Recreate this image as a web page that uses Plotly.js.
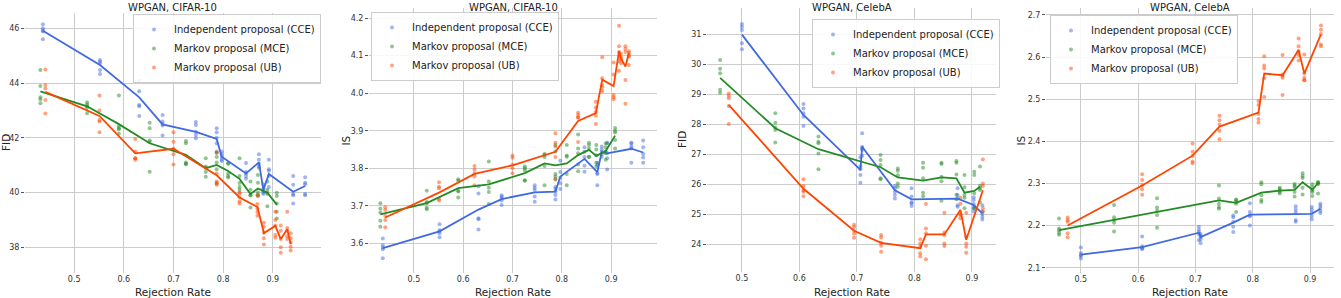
<!DOCTYPE html>
<html><head><meta charset="utf-8">
<script src="https://cdn.plot.ly/plotly-3.0.1.min.js"></script>
<style>html,body{margin:0;padding:0;background:#fff;} #chart{width:1341px;height:298px;}</style>
</head><body><div id="chart"></div>
<script>
// ---------------- DATA ----------------
const seriesNames = ['Independent proposal (CCE)', 'Markov proposal (MCE)', 'Markov proposal (UB)'];
const panelTitles = ['WPGAN, CIFAR-10', 'WPGAN, CIFAR-10', 'WPGAN, CelebA', 'WPGAN, CelebA'];
const yLabels = ['FID', 'IS', 'FID', 'IS'];
const xLabel = 'Rejection Rate';
const xTicks = [0.5, 0.6, 0.7, 0.8, 0.9];

// CIFAR-10 rejection rates
const cifarRateCCE = [0.437, 0.552, 0.631, 0.678, 0.745, 0.787, 0.797, 0.846, 0.872, 0.881, 0.892, 0.941, 0.965];
const cifarRateMCE = [0.432, 0.526, 0.59, 0.652, 0.725, 0.765, 0.787, 0.81, 0.833, 0.855, 0.87, 0.889, 0.908];
const cifarRateUB = [0.442, 0.551, 0.623, 0.70, 0.787, 0.833, 0.869, 0.882, 0.905, 0.916, 0.929, 0.936];
const cifarRateUBis = [0.442, 0.551, 0.623, 0.70, 0.787, 0.833, 0.869, 0.882, 0.905, 0.916, 0.92, 0.929, 0.936];
// CelebA rejection rates
const celebRateCCE = [0.5, 0.607, 0.706, 0.709, 0.766, 0.795, 0.875, 0.903, 0.918];
const celebRateMCE = [0.462, 0.558, 0.633, 0.741, 0.771, 0.815, 0.847, 0.873, 0.887, 0.904, 0.914];
const celebRateUB = [0.477, 0.607, 0.695, 0.742, 0.81, 0.82, 0.852, 0.88, 0.89, 0.919];

// Panel 1: CIFAR-10 FID
const cifarFidCCEline = [45.91, 44.66, 43.48, 42.49, 42.22, 41.96, 41.31, 40.70, 41.10, 40.09, 40.68, 40.03, 40.24];
const cifarFidCCEruns = [[46.15,46.0,45.92,45.88,45.6],[44.84,44.78,44.72,44.48,44.33],[44.08,43.7,43.2,43.15,42.8],[42.83,42.6,42.5,42.45,42.08],[42.58,42.47,42.22,42.1,41.98],[42.35,42.2,42.0,41.8,41.5],[41.5,41.4,41.3,41.2,41.15],[41.08,40.75,40.7,40.6,40.5],[41.4,41.2,41.05,40.95,40.9],[40.3,40.15,40.05,40.0,39.95],[41.2,40.85,40.8,40.6,40.2],[40.6,40.28,39.95,39.9,39.6],[40.56,40.36,40.3,39.95,39.9]];
const cifarFidMCEline = [43.7, 43.15, 42.5, 41.8, 41.38, 40.89, 41.01, 40.79, 40.5, 39.95, 40.15, 39.99, 39.56];
const cifarFidMCEruns = [[44.48,43.89,43.48,43.41,43.26],[43.3,43.22,43.15,43.1,42.9],[43.55,42.42,42.35,42.3,42.15],[42.55,42.35,41.9,41.85,40.76],[41.88,41.8,41.1,41.05,41.03],[41.25,40.95,40.9,40.75,40.58],[41.45,41.3,41.1,40.85,40.35],[41.07,41.05,40.7,40.6,40.55],[41.25,40.6,40.35,40.2,40.1],[40.4,40.1,39.9,39.9,39.45],[40.64,40.36,40.0,39.87,39.9],[40.4,40.1,40.0,39.95,39.5],[39.99,39.87,39.6,39.3,39.05]];
const cifarFidUBline = [43.68, 42.8, 41.43, 41.6, 40.63, 39.82, 39.47, 38.52, 38.78, 38.3, 38.66, 38.12];
const cifarFidUBruns = [[44.5,43.93,43.8,43.38,42.89],[43.55,43.0,42.65,42.6,42.2],[41.96,41.5,41.25,41.2,41.25],[42.2,41.86,41.6,41.4,41.02],[41.45,40.7,40.4,40.33,40.28],[40.0,39.97,39.83,39.67,39.6],[39.9,39.58,39.42,39.3,39.15],[38.9,38.75,38.53,38.33,38.1],[39.3,39.0,38.8,38.45,38.35],[38.8,38.6,38.3,38.0,37.8],[39.3,38.7,38.6,38.4,38.3],[38.51,38.33,38.17,38.02,37.88]];

// Panel 2: CIFAR-10 IS
const cifarIsCCEline = [3.587, 3.632, 3.69, 3.718, 3.736, 3.738, 3.778, 3.825, 3.79, 3.843, 3.84, 3.852, 3.842];
const cifarIsCCEruns = [[3.613,3.595,3.589,3.584,3.56],[3.651,3.635,3.632,3.627,3.616],[3.752,3.733,3.667,3.664,3.637],[3.728,3.724,3.72,3.714,3.702],[3.755,3.748,3.742,3.725,3.711],[3.75,3.745,3.738,3.729,3.717],[3.82,3.79,3.775,3.76,3.745],[3.856,3.844,3.83,3.807,3.791],[3.815,3.809,3.787,3.785,3.755],[3.858,3.85,3.844,3.838,3.831],[3.868,3.867,3.84,3.827,3.797],[3.868,3.866,3.858,3.853,3.815],[3.874,3.856,3.838,3.829,3.815]];
const cifarIsMCEline = [3.677, 3.707, 3.747, 3.757, 3.787, 3.813, 3.808, 3.813, 3.835, 3.849, 3.833, 3.846, 3.887];
const cifarIsMCEruns = [[3.707,3.693,3.682,3.66,3.644],[3.74,3.71,3.707,3.695,3.691],[3.771,3.767,3.74,3.738,3.722],[3.818,3.765,3.748,3.737,3.705],[3.805,3.8,3.795,3.768,3.767],[3.838,3.836,3.83,3.806,3.755],[3.862,3.845,3.785,3.77,3.778],[3.862,3.834,3.831,3.785,3.755],[3.89,3.853,3.84,3.81,3.792],[3.868,3.862,3.853,3.831,3.83],[3.862,3.85,3.835,3.815,3.805],[3.866,3.856,3.845,3.84,3.823],[3.907,3.9,3.895,3.875,3.853]];
const cifarIsUBline = [3.669, 3.735, 3.785, 3.808, 3.844, 3.926, 3.947, 4.036, 4.019, 4.112, 4.093, 4.071, 4.107];
const cifarIsUBruns = [[3.696,3.689,3.673,3.662,3.643],[3.763,3.751,3.747,3.718,3.714],[3.806,3.797,3.787,3.778,3.755],[3.834,3.828,3.81,3.8,3.787],[3.893,3.868,3.858,3.83,3.772],[3.948,3.942,3.935,3.935,3.87],[3.977,3.962,3.95,3.94,3.918],[4.096,4.04,4.022,4.016,4.006],[4.082,4.05,3.995,3.989,3.984],[4.18,4.125,4.11,4.085,4.06],[4.105,4.095,4.09,4.08],[4.125,4.118,4.11,4.035,3.972],[4.112,4.107,4.1,4.098,4.075]];

// Panel 3: CelebA FID
const celebFidCCEline = [30.99, 28.31, 26.48, 27.25, 25.8, 25.5, 25.52, 25.31, 25.03];
const celebFidCCEruns = [[31.34,31.25,31.14,30.7,30.5],[28.68,28.53,28.37,28.25,27.94],[26.9,26.6,26.5,26.31,26.05],[27.7,27.25,27.2,27.15,26.95],[25.94,25.87,25.75,25.64,25.53],[25.87,25.59,25.4,25.37,25.28],[25.87,25.64,25.53,25.3,25.25],[25.57,25.48,25.34,25.2,25.09],[25.3,25.09,25.01,24.92,24.83]];
const celebFidMCEline = [29.55, 27.87, 27.17, 26.57, 26.23, 26.12, 26.23, 26.2, 25.72, 25.78, 25.92];
const celebFidMCEruns = [[30.14,29.85,29.7,29.15,29.05],[28.37,28.05,27.89,27.81,27.39],[27.59,27.42,27.37,27.03,26.5],[26.98,26.81,26.64,26.2,26.17],[26.53,26.45,26.3,26.03,25.92],[26.72,26.55,26.2,25.72,25.6],[26.72,26.68,26.25,26.1,25.45],[26.78,26.72,26.33,25.65,25.5],[26.31,25.9,25.64,25.55,25.2],[26.42,26.31,25.7,25.25,25.2],[26.59,25.95,25.87,25.81,25.4]];
const celebFidUBline = [28.65, 25.85, 24.45, 24.05, 23.87, 24.33, 24.33, 25.15, 24.15, 25.8];
const celebFidUBruns = [[29.03,28.95,28.87,28.61,28.01],[26.17,25.94,25.8,25.75,25.6],[24.65,24.58,24.45,24.35,24.22],[24.31,24.23,24.05,23.95,23.75],[24.17,24.03,23.92,23.7,23.59],[25.34,24.53,24.37,23.95,23.5],[25.05,24.39,24.31,24.03,23.94],[25.55,25.35,25.0,24.98,24.87],[25.05,24.25,24.03,23.92,23.72],[26.83,26.03,25.94,25.2,25.09]];

// Panel 4: CelebA IS
const celebIsCCEline = [2.131, 2.149, 2.183, 2.173, 2.207, 2.226, 2.227, 2.228, 2.24];
const celebIsCCEruns = [[2.148,2.135,2.13,2.128,2.122],[2.174,2.151,2.148,2.146,2.144],[2.197,2.19,2.185,2.18,2.165],[2.18,2.175,2.172,2.167,2.158],[2.224,2.22,2.209,2.197,2.185],[2.253,2.232,2.224,2.222,2.2],[2.246,2.238,2.231,2.213,2.209],[2.244,2.238,2.231,2.223,2.215],[2.252,2.247,2.242,2.235,2.23]];
const celebIsMCEline = [2.189, 2.213, 2.232, 2.26, 2.254, 2.278, 2.283, 2.285, 2.303, 2.285, 2.301];
const celebIsMCEruns = [[2.217,2.193,2.189,2.183,2.178],[2.249,2.22,2.213,2.207,2.186],[2.265,2.243,2.235,2.225,2.195],[2.295,2.264,2.252,2.244,2.24],[2.262,2.26,2.256,2.252,2.232],[2.303,2.298,2.272,2.261,2.256],[2.29,2.287,2.283,2.28,2.276],[2.299,2.295,2.291,2.28,2.269],[2.324,2.318,2.313,2.29,2.274],[2.298,2.291,2.283,2.28,2.27],[2.303,2.303,2.299,2.3,2.276]];
const celebIsUBline = [2.20, 2.295, 2.366, 2.435, 2.468, 2.561, 2.557, 2.617, 2.561, 2.654];
const celebIsUBruns = [[2.219,2.213,2.209,2.182,2.172],[2.322,2.308,2.296,2.286,2.273],[2.395,2.375,2.365,2.352,2.348],[2.461,2.45,2.44,2.425,2.405],[2.496,2.486,2.465,2.453,2.445],[2.602,2.58,2.573,2.55,2.505],[2.605,2.559,2.555,2.551,2.51],[2.644,2.626,2.614,2.605,2.592],[2.606,2.561,2.551,2.545,2.545],[2.675,2.665,2.655,2.63,2.626]];

// ---------------- STYLE / LAYOUT ----------------
const W = 1341, H = 298;
const colors = ['#4169E1', '#228B22', '#FF4500'];
const FONT = 'DejaVu Sans, Liberation Sans, sans-serif';

const panels = [
  {xpx:[25,321], ypx:[13,273], xr:[0.401,0.997], yr:[37.06,46.56], tick0:38, dtick:2, fmt:'d', ylabX:6, leg:[133,14],
   series:[[cifarRateCCE,cifarFidCCEline,cifarFidCCEruns],[cifarRateMCE,cifarFidMCEline,cifarFidMCEruns],[cifarRateUB,cifarFidUBline,cifarFidUBruns]]},
  {xpx:[369,657], ypx:[8,273], xr:[0.409,0.993], yr:[3.521,4.227], tick0:3.6, dtick:0.1, fmt:'.1f', ylabX:345, leg:[371,12],
   series:[[cifarRateCCE,cifarIsCCEline,cifarIsCCEruns],[cifarRateMCE,cifarIsMCEline,cifarIsMCEruns],[cifarRateUBis,cifarIsUBline,cifarIsUBruns]]},
  {xpx:[707,996], ypx:[8,272], xr:[0.4392,0.9418], yr:[23.077,31.877], tick0:24, dtick:1, fmt:'d', ylabX:682, leg:[812,19],
   series:[[celebRateCCE,celebFidCCEline,celebFidCCEruns],[celebRateMCE,celebFidMCEline,celebFidMCEruns],[celebRateUB,celebFidUBline,celebFidUBruns]]},
  {xpx:[1046,1334], ypx:[8,273], xr:[0.4392,0.9418], yr:[2.0874,2.7166], tick0:2.1, dtick:0.1, fmt:'.1f', ylabX:1020, leg:[1050,15],
   series:[[celebRateCCE,celebIsCCEline,celebIsCCEruns],[celebRateMCE,celebIsMCEline,celebIsMCEruns],[celebRateUB,celebIsUBline,celebIsUBruns]]}
];

const traces = [];
const layout = {
  width: W, height: H,
  margin: {l:0, r:0, t:0, b:0, pad:0},
  paper_bgcolor: '#ffffff', plot_bgcolor: '#ffffff',
  font: {family: FONT, size: 9, color: '#333333'},
  showlegend: true,
  annotations: []
};

panels.forEach((p, i) => {
  const sfx = i === 0 ? '' : String(i + 1);
  const xa = 'x' + sfx, ya = 'y' + sfx;
  const legId = i === 0 ? 'legend' : 'legend' + (i + 1);
  layout['xaxis' + sfx] = {
    domain: [p.xpx[0] / W, p.xpx[1] / W], range: p.xr, anchor: ya,
    tickmode: 'array', tickvals: xTicks, tickformat: '.1f',
    showgrid: true, gridcolor: '#cccccc', gridwidth: 1, zeroline: false, showline: false,
    ticks: '', ticklen: 0,
    tickfont: {family: FONT, size: 8, color: '#333333'}, fixedrange: true
  };
  layout['yaxis' + sfx] = {
    domain: [1 - p.ypx[1] / H, 1 - p.ypx[0] / H], range: p.yr, anchor: xa,
    tickmode: 'linear', tick0: p.tick0, dtick: p.dtick, tickformat: p.fmt,
    showgrid: true, gridcolor: '#cccccc', gridwidth: 1, zeroline: false, showline: false,
    ticks: 'outside', ticklen: 3, tickcolor: '#555555', tickwidth: 1,
    tickfont: {family: FONT, size: 8, color: '#333333'}, fixedrange: true
  };
  layout[legId] = {
    x: p.leg[0] / W, y: 1 - p.leg[1] / H, xanchor: 'left', yanchor: 'top',
    bgcolor: 'rgba(255,255,255,0.85)', bordercolor: '#cccccc', borderwidth: 1,
    font: {family: FONT, size: 10, color: '#222222'}, tracegroupgap: 0
  };
  p.series.forEach((s, k) => {
    const [rate, line, runs] = s;
    const sx = [], sy = [];
    runs.forEach((col, j) => col.forEach(v => { sx.push(rate[j]); sy.push(v); }));
    traces.push({
      type: 'scatter', mode: 'markers', x: sx, y: sy, xaxis: xa, yaxis: ya,
      name: seriesNames[k], legend: legId, showlegend: true,
      marker: {color: colors[k], size: 4, opacity: 0.5, line: {width: 0}},
      hoverinfo: 'skip'
    });
  });
  p.series.forEach((s, k) => {
    const [rate, line] = s;
    traces.push({
      type: 'scatter', mode: 'lines', x: rate, y: line, xaxis: xa, yaxis: ya,
      name: seriesNames[k], legend: legId, showlegend: false,
      line: {color: colors[k], width: 1.8}, hoverinfo: 'skip'
    });
  });
  const cx = (p.xpx[0] + p.xpx[1]) / 2 / W;
  const cy = 1 - (p.ypx[0] + p.ypx[1]) / 2 / H;
  layout.annotations.push({text: panelTitles[i], xref: 'paper', yref: 'paper', x: cx, y: 1 - 7 / H,
    xanchor: 'center', yanchor: 'middle', showarrow: false, font: {family: FONT, size: 10, color: '#222222'}});
  layout.annotations.push({text: xLabel, xref: 'paper', yref: 'paper', x: cx, y: 1 - 291.5 / H,
    xanchor: 'center', yanchor: 'middle', showarrow: false, font: {family: FONT, size: 10.5, color: '#222222'}});
  layout.annotations.push({text: yLabels[i], xref: 'paper', yref: 'paper', x: p.ylabX / W, y: cy, textangle: -90,
    xanchor: 'center', yanchor: 'middle', showarrow: false, font: {family: FONT, size: 10.5, color: '#222222'}});
});

Plotly.newPlot('chart', traces, layout, {displayModeBar: false, staticPlot: true});
</script>
</body></html>
